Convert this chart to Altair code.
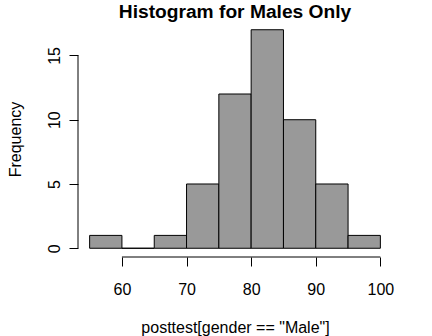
import altair as alt
import pandas as pd

# Histogram data (bins of width 5)
bin_start = [55, 60, 65, 70, 75, 80, 85, 90, 95]
bin_end = [60, 65, 70, 75, 80, 85, 90, 95, 100]
counts = [1, 0, 1, 5, 12, 17, 10, 5, 1]
x_ticks = [60, 70, 80, 90, 100]
y_ticks = [0, 5, 10, 15]

df = pd.DataFrame({"start": bin_start, "end": bin_end, "count": counts,
                   "base": [0] * len(counts)})
yline = pd.DataFrame({"lo": [min(y_ticks)], "hi": [max(y_ticks)]})
xline = pd.DataFrame({"lo": [min(x_ticks)], "hi": [max(x_ticks)]})

W, H = 314, 236
FONT = "Liberation Sans"
xscale = alt.Scale(domain=[53.2, 101.8], nice=False, zero=False)
yscale = alt.Scale(domain=[-0.68, 17.68], nice=False, zero=False)

common_axis = dict(domain=False, grid=False, tickSize=9, tickColor="black", tickWidth=1,
                   labelFont=FONT, labelFontSize=16, labelColor="black",
                   labelFlush=False, labelOverlap=False,
                   titleFont=FONT, titleFontSize=16, titleFontWeight="normal",
                   titleColor="black")

x_axis = alt.Axis(values=x_ticks, labelPadding=28, labelBaseline="alphabetic",
                  labelAlign="center", title='posttest[gender == "Male"]',
                  titleX=157, titleY=75, titleBaseline="alphabetic",
                  titleAlign="center", **common_axis)
y_axis = alt.Axis(values=y_ticks, labelAngle=270, labelPadding=10,
                  labelAlign="center", labelBaseline="alphabetic",
                  title="Frequency", titleAngle=270, titleX=-58, titleY=118,
                  titleAlign="center", titleBaseline="alphabetic",
                  **common_axis)

bars = alt.Chart(df).mark_rect(fill="#999999", stroke="black", strokeWidth=1).encode(
    x=alt.X("start:Q", scale=xscale, axis=x_axis),
    x2="end:Q",
    y=alt.Y("count:Q", scale=yscale, axis=y_axis),
    y2="base:Q",
)

yaxis_line = alt.Chart(yline).mark_rule(color="black", strokeWidth=1).encode(
    x=alt.value(0),
    y=alt.Y("lo:Q", scale=yscale, axis=y_axis),
    y2="hi:Q",
)
xaxis_line = alt.Chart(xline).mark_rule(color="black", strokeWidth=1).encode(
    y=alt.value(H),
    x=alt.X("lo:Q", scale=xscale, axis=x_axis),
    x2="hi:Q",
)

chart = alt.layer(bars, yaxis_line, xaxis_line).properties(
    width=W, height=H,
    title=alt.TitleParams("Histogram for Males Only", font=FONT, fontSize=19.2,
                          fontWeight="bold", color="black", anchor="middle",
                          frame="group", offset=3, dy=4),
    autosize=alt.AutoSizeParams(type="none"),
    padding={"left": 78, "top": 21, "right": 432 - 78 - W, "bottom": 336 - 21 - H},
    background="white",
).configure_view(stroke=None)

chart.save("out.html", embed_options={"renderer": "svg", "actions": False})
